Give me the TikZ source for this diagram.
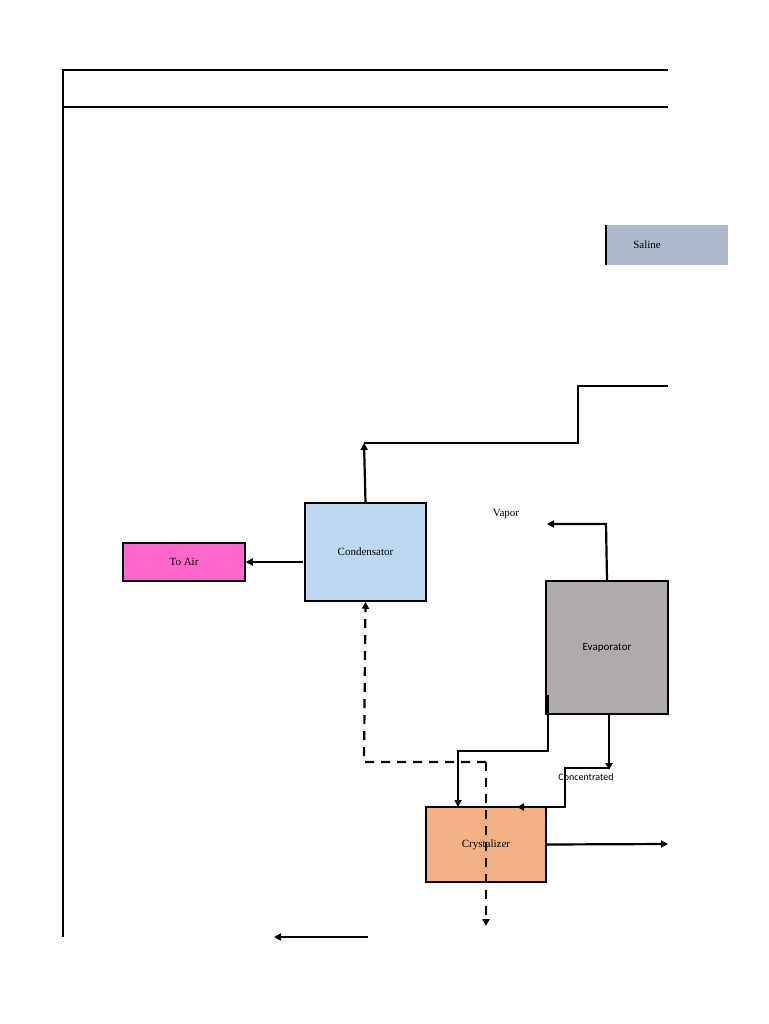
\documentclass[tikz,border=0pt]{standalone}
\usepackage{fontspec}
\setmainfont{Liberation Serif}
\newfontfamily\sansf{Carlito}
\usetikzlibrary{arrows.meta}
\definecolor{sal}{HTML}{ADB9CA}
\definecolor{cond}{HTML}{BDD7EE}
\definecolor{air}{HTML}{FF66CC}
\definecolor{evap}{HTML}{AFABAB}
\definecolor{cry}{HTML}{F4B183}
\begin{document}
\begin{tikzpicture}[x=1pt,y=-1pt,
  box/.style={draw=black,line width=1.5pt,inner sep=0pt,font=\fontsize{11}{13}\selectfont},
  flow/.style={line width=2.2pt,-{Triangle[length=7pt,width=7pt]}},
  line/.style={line width=2.2pt},
  dflow/.style={line width=2.2pt,dash pattern=on 9pt off 7pt,-{Triangle[length=7pt,width=7pt]}}]
\useasboundingbox (0,0) rectangle (768,1024);
\draw[line width=1.5pt] (668,70) -- (63,70) -- (63,937);
\draw[line width=1.5pt] (63,107) -- (668,107);
% Saline
\node[fill=sal,minimum width=122pt,minimum height=40pt,inner sep=0pt,font=\fontsize{11}{13}\selectfont] (sal) at (667,245) {\hspace*{-40pt}Saline};
\draw[line width=1.5pt] (606,225) -- (606,265);
% boxes
\node[box,fill=cond,minimum width=121pt,minimum height=98pt] (cond) at (365.5,552) {Condensator};
\node[box,fill=air,minimum width=122pt,minimum height=38pt] (air) at (184,562) {To Air};
\node[box,fill=evap,minimum width=122pt,minimum height=133pt,font=\sansf\fontsize{11}{13}\selectfont] (evap) at (607,647.5) {Evaporator};
\node[box,fill=cry,minimum width=120pt,minimum height=75pt] (cry) at (486,844.5) {Crystalizer};
\node[font=\fontsize{11}{13}\selectfont] (vap) at (506,514) {Vapor};
\node[font=\sansf\fontsize{10}{12}\selectfont] (conc) at (586,777) {Concentrated};
\coordinate (c1) at (364,443);
\coordinate (v1) at (547,524);
\coordinate (o1) at (668,844);
\coordinate (b1) at (368,937);
\coordinate (b2) at (274,937);
\coordinate (k1) at (458,807);
% connectors
\draw[flow] (cond.north) -- (c1);
\draw[line] (c1) -- (578,443) -- (578,386) -- (668,386);
\draw[flow] (303,562) -- (air.east);
\draw[flow] (evap.north) -- (606,524) -- (v1);
\draw[flow] (548,695) -- (548,751) -- (458,751) -- (k1);
\draw[flow] (609,714) -- (609,770);
\draw[flow] (609,768) -- (565,768) -- (565,807) -- (517,807);
\draw[flow] (cry.east) -- (o1);
\draw[dflow] (486,762) -- (486,926);
\draw[dflow] (486,762) -- (364,762) -- (cond.south);
\draw[flow,line width=1.5pt] (b1) -- (b2);
\end{tikzpicture}
\end{document}
